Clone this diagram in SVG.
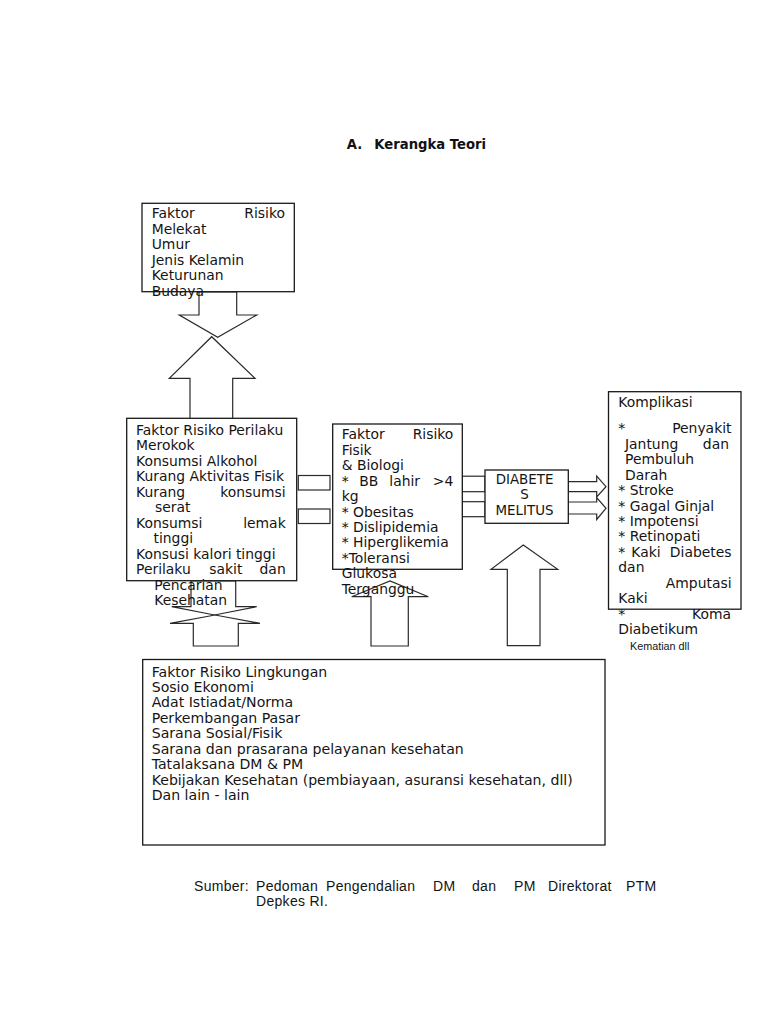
<svg xmlns="http://www.w3.org/2000/svg" width="768" height="1024" viewBox="0 0 768 1024">
<style>
.bg{fill:#ffffff}
.box{fill:#ffffff;stroke:#1a1a1a;stroke-width:1.3}
.arr{fill:#ffffff;stroke:#2a2a2a;stroke-width:1.2;stroke-linejoin:miter}
.t{font-family:"DejaVu Sans",Verdana,sans-serif;font-size:13.9px;fill:#141414}
.tl{font-size:14.1px}
.e{text-anchor:end}
.dm{font-family:"DejaVu Sans",Verdana,sans-serif;font-size:13.4px;fill:#141414;text-anchor:middle}
.title{font-family:"DejaVu Sans",Verdana,sans-serif;font-size:13.2px;font-weight:bold;fill:#111}
.src{font-family:"Liberation Sans",Arial,sans-serif;font-size:14px;letter-spacing:0.3px;fill:#141414}
.small{font-family:"Liberation Sans",Arial,sans-serif;font-size:10.8px;fill:#141414}
</style>
<rect class="bg" x="0" y="0" width="768" height="1024"/>

<g id="title">
<text class="title" x="346.7" y="149">A.</text>
<text class="title" x="374.3" y="149">Kerangka Teori</text>
</g>

<g id="connectors">
<polygon class="arr" points="199,292 199,315 179.3,315 217.7,337.3 256.7,315 236.7,315 236.7,292"/>
<polygon class="arr" points="190,419 190,378.3 169.3,378.3 211.7,336.7 255,378.3 232.7,378.3 232.7,419"/>
<polygon class="arr" points="191,581 191,606.7 171.7,606.7 214.5,615 256.7,606.7 235.7,606.7 235.7,581"/>
<polygon class="arr" points="193.3,646 193.3,623.3 170,623.3 215,615 260,623.3 238.3,623.3 238.3,646"/>
<polygon class="arr" points="371,646 371,596.7 351.7,596.7 390,581 428.3,596.7 408.3,596.7 408.3,646"/>
<polygon class="arr" points="507.3,645.7 507.3,569.3 491,569.3 523.3,545 557.7,569.3 540,569.3 540,645.7"/>
<rect class="arr" x="298.3" y="475.5" width="31.7" height="14.5"/>
<rect class="arr" x="298.3" y="509" width="31.7" height="14.5"/>
<rect class="arr" x="462.3" y="476.2" width="22.7" height="15.5"/>
<rect class="arr" x="462.3" y="501.7" width="22.7" height="15"/>
<polygon class="arr" points="568.3,481.7 596.7,481.7 596.7,476 606,486.7 596.7,497 596.7,491.7 568.3,491.7"/>
<polygon class="arr" points="568.3,502 596.7,502 596.7,497.5 606,508.3 596.7,519.5 596.7,514 568.3,514"/>
</g>

<g id="node-melekat">
<rect class="box" x="142" y="203.3" width="152.3" height="88.4"/>
<text class="t" x="151.7" y="218.3">Faktor</text>
<text class="t e" x="285" y="218.3">Risiko</text>
<text class="t" x="151.7" y="233.8">Melekat</text>
<text class="t" x="151.7" y="249.3">Umur</text>
<text class="t" x="151.7" y="264.7">Jenis Kelamin</text>
<text class="t" x="151.7" y="280.2">Keturunan</text>
<text class="t" x="151.7" y="295.7">Budaya</text>
</g>

<g id="node-perilaku">
<rect class="box" x="126.7" y="418.3" width="170" height="162.4"/>
<text class="t" x="136" y="435">Faktor Risiko Perilaku</text>
<text class="t" x="136" y="450.45">Merokok</text>
<text class="t" x="136" y="465.9">Konsumsi Alkohol</text>
<text class="t" x="136" y="481.35">Kurang Aktivitas Fisik</text>
<text class="t" x="136" y="496.8">Kurang</text>
<text class="t e" x="285.7" y="496.8">konsumsi</text>
<text class="t" x="155" y="512.25">serat</text>
<text class="t" x="136" y="527.7">Konsumsi</text>
<text class="t e" x="285.7" y="527.7">lemak</text>
<text class="t" x="153.5" y="543.15">tinggi</text>
<text class="t" x="136" y="558.6">Konsusi kalori tinggi</text>
<text class="t" x="136" y="574.05">Perilaku</text>
<text class="t" x="209.3" y="574.05">sakit</text>
<text class="t e" x="285.7" y="574.05">dan</text>
<text class="t" x="154.3" y="589.5">Pencarian</text>
<text class="t" x="154.3" y="604.95">Kesehatan</text>
</g>

<g id="node-fisik">
<rect class="box" x="332.7" y="424" width="129.6" height="145.3"/>
<text class="t" x="341.7" y="439.3">Faktor</text>
<text class="t e" x="453.3" y="439.3">Risiko</text>
<text class="t" x="341.7" y="454.75">Fisik</text>
<text class="t" x="341.7" y="470.2">&amp; Biologi</text>
<text class="t" x="341.7" y="485.65">*</text>
<text class="t" x="359.3" y="485.65">BB</text>
<text class="t" x="389.3" y="485.65">lahir</text>
<text class="t e" x="453.3" y="485.65">&gt;4</text>
<text class="t" x="341.7" y="501.1">kg</text>
<text class="t" x="341.7" y="516.55">* Obesitas</text>
<text class="t" x="341.7" y="532">* Dislipidemia</text>
<text class="t" x="341.7" y="547.45">* Hiperglikemia</text>
<text class="t" x="341.7" y="562.9">*Toleransi</text>
<text class="t" x="341.7" y="578.35">Glukosa</text>
<text class="t" x="341.7" y="593.8">Terganggu</text>
</g>

<g id="node-dm">
<rect class="box" x="485" y="470" width="83.3" height="53.3"/>
<text class="dm" x="524.5" y="484">DIABETE</text>
<text class="dm" x="524.5" y="499.3">S</text>
<text class="dm" x="524.5" y="515">MELITUS</text>
</g>

<g id="node-komplikasi">
<rect class="box" x="608.5" y="391.7" width="132.5" height="217.5"/>
<text class="t" x="618.3" y="407.3">Komplikasi</text>
<text class="t" x="618.3" y="433.3">*</text>
<text class="t e" x="731.5" y="433.3">Penyakit</text>
<text class="t" x="625" y="448.75">Jantung</text>
<text class="t e" x="729" y="448.75">dan</text>
<text class="t" x="625" y="464.2">Pembuluh</text>
<text class="t" x="625" y="479.65">Darah</text>
<text class="t" x="618.3" y="495.1">* Stroke</text>
<text class="t" x="618.3" y="510.55">* Gagal Ginjal</text>
<text class="t" x="618.3" y="526">* Impotensi</text>
<text class="t" x="618.3" y="541.45">* Retinopati</text>
<text class="t" x="618.3" y="556.9">*</text>
<text class="t" x="631.3" y="556.9">Kaki</text>
<text class="t e" x="731.5" y="556.9">Diabetes</text>
<text class="t" x="618.3" y="572.35">dan</text>
<text class="t e" x="731.5" y="587.8">Amputasi</text>
<text class="t" x="618.3" y="603.25">Kaki</text>
<text class="t" x="618.3" y="618.7">*</text>
<text class="t e" x="731" y="618.7">Koma</text>
<text class="t" x="618.3" y="634.15">Diabetikum</text>
<text class="small" x="630" y="650">Kematian dll</text>
</g>

<g id="node-lingkungan">
<rect class="box" x="142.7" y="659.5" width="462.3" height="185.5"/>
<text class="t tl" x="151.7" y="676.5">Faktor Risiko Lingkungan</text>
<text class="t tl" x="151.7" y="691.95">Sosio Ekonomi</text>
<text class="t tl" x="151.7" y="707.4">Adat Istiadat/Norma</text>
<text class="t tl" x="151.7" y="722.85">Perkembangan Pasar</text>
<text class="t tl" x="151.7" y="738.3">Sarana Sosial/Fisik</text>
<text class="t tl" x="151.7" y="753.75">Sarana dan prasarana pelayanan kesehatan</text>
<text class="t tl" x="151.7" y="769.2">Tatalaksana DM &amp; PM</text>
<text class="t tl" x="151.7" y="784.65">Kebijakan Kesehatan (pembiayaan, asuransi kesehatan, dll)</text>
<text class="t tl" x="151.7" y="800.1">Dan lain - lain</text>
</g>

<g id="source">
<text class="src" x="194" y="891">Sumber:</text>
<text class="src" x="256" y="891">Pedoman</text>
<text class="src" x="326" y="891">Pengendalian</text>
<text class="src" x="433" y="891">DM</text>
<text class="src" x="472" y="891">dan</text>
<text class="src" x="514" y="891">PM</text>
<text class="src" x="548" y="891">Direktorat</text>
<text class="src" x="626" y="891">PTM</text>
<text class="src" x="256" y="905.5">Depkes RI.</text>
</g>
</svg>
